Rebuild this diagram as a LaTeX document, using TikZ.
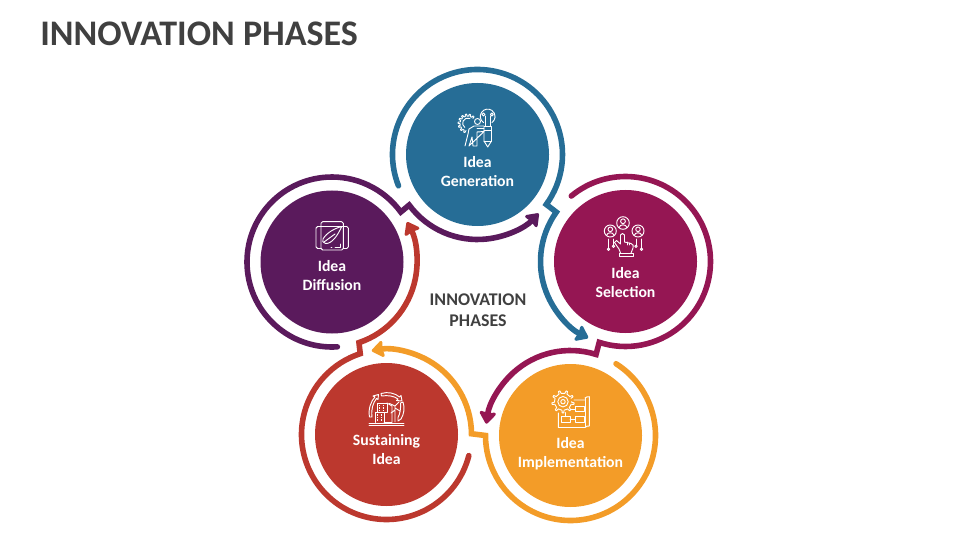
\documentclass[tikz,border=0pt]{standalone}
\usepackage{fontspec}
\setmainfont{Carlito}
\usetikzlibrary{arrows.meta,calc}
\definecolor{cgen}{HTML}{266D96}
\definecolor{csel}{HTML}{951653}
\definecolor{cimp}{HTML}{F39C28}
\definecolor{csus}{HTML}{BC382E}
\definecolor{cdif}{HTML}{5A1A5C}
\definecolor{ctxt}{HTML}{404040}
\tikzset{
  phase/.style={circle,fill=#1,minimum size=107.25pt,inner sep=0pt,draw=none},
  lbl/.style={text=white,font=\fontsize{11.8pt}{14.2pt}\selectfont\bfseries,align=center,inner sep=0pt},
  ringline/.style={draw=#1,line width=4.2pt,line join=miter,miter limit=10,line cap=round},
  headline/.style={-{Stealth[length=10pt,width=14.5pt,inset=1pt,round]}},
  ico/.style={draw=white,line width=.7pt,fill=none,line join=round,line cap=round},
}
% #1 colour, #2 own node, #3 next node, #4 rotation
\newcommand{\ringpath}[4]{%
  \draw[ringline=#1,headline]
    (#2.center) ++({201.6+#4}:63.75pt)
    arc[start angle={201.6+#4},delta angle=-237.6,radius=63.75pt]
    -- ($(#3.center)+({144.5+#4}:63.75pt)$)
    arc[start angle={144.5+#4},delta angle=99.5,radius=63.75pt];
}
% gear: cx cy inner outer, teeth angles first, last, second
\newcommand{\icogear}[7]{%
  \draw[ico] ({#1+#3*cos(#5)},{#2+#3*sin(#5)})
  \foreach \a in {#5,#7,...,#6}{
    -- ({#1+#3*cos(\a+3)},{#2+#3*sin(\a+3)})
    -- ({#1+#4*cos(\a+6)},{#2+#4*sin(\a+6)})
    -- ({#1+#4*cos(\a+14)},{#2+#4*sin(\a+14)})
    -- ({#1+#3*cos(\a+17)},{#2+#3*sin(\a+17)})
  };
}
\newcommand{\icoperson}[3]{%
  \draw[ico] (#1,#2) circle[radius=#3];
  \draw[ico] (#1,{#2-.28*#3}) circle[radius={.38*#3}];
  \draw[ico] ({#1-.62*#3},{#2+.72*#3}) .. controls ({#1-.5*#3},{#2+.15*#3}) and ({#1+.5*#3},{#2+.15*#3}) .. ({#1+.62*#3},{#2+.72*#3});
}
\begin{document}
\begin{tikzpicture}[x=.75pt,y=.75pt]
\useasboundingbox (0,0) rectangle (960,540);
\node[anchor=west,inner sep=0pt,text=ctxt,font=\fontsize{27pt}{30pt}\selectfont\bfseries] (title) at (40,506) {INNOVATION PHASES};
\node[phase=cgen] (gen) at (477.5,385.5) {};
\node[phase=csel] (sel) at (625.5,278.5) {};
\node[phase=cimp] (imp) at (570.5,104.5) {};
\node[phase=csus] (sus) at (386.5,105.5) {};
\node[phase=cdif] (dif) at (332,278) {};
\ringpath{cgen}{gen}{sel}{0}
\ringpath{csel}{sel}{imp}{-72}
\ringpath{cimp}{imp}{sus}{-144}
\ringpath{csus}{sus}{dif}{-216}
\ringpath{cdif}{dif}{gen}{72}
\node[lbl] (lgen) at (477.5,368.5) {Idea\\Generation};
\node[lbl] (lsel) at (625.5,257.5) {Idea\\Selection};
\node[lbl] (limp) at (570.5,86.5) {Idea\\Implementation};
\node[lbl] (lsus) at (386.5,90.5) {Sustaining\\Idea};
\node[lbl] (ldif) at (332,264.5) {Idea\\Diffusion};
\node[text=ctxt,align=center,inner sep=0pt,font=\fontsize{13.4pt}{15.7pt}\selectfont\bfseries] (ctr) at (478,229.5) {INNOVATION\\PHASES};
% --- icon: generation
\begin{scope}[shift={(452,435)},y=-.75pt]
  \icogear{15.5}{18.5}{7.4}{9.4}{100}{300}{125}
  \draw[ico] (18,13.5) arc[start angle=-65,end angle=-235,radius=5.2];
  \draw[ico] (35.7,11.5) ++(125:7.4) arc[start angle=125,delta angle=290,radius=7.4];
  \draw[ico] (33,11) -- (33,21.5) (38.5,11) -- (38.5,21.5);
  \draw[ico] (31.5,9.5) circle[radius=1.5] (39.9,9.5) circle[radius=1.5];
  \draw[ico] (32,21.5) -- (39.5,21.5) -- (39.5,36) -- (35.7,42) -- (32,36) -- cycle;
  \draw[ico] (32,25) -- (39.5,25) (32,36) -- (39.5,36);
  \draw[ico] (25.5,16.5) circle[radius=3];
  \draw[ico] (13,41) -- (16,29) -- (17,24) -- (22,21) -- (32,21) (32,26.5) -- (25,27) -- (25,41) -- (21,41) -- (20,32) -- (17,41) -- cycle;
  \draw[ico] (25,23.8) -- (32,23.8);
\end{scope}
% --- icon: selection
\begin{scope}[shift={(598,328)},y=-.75pt]
  \icoperson{25}{11}{6.3}
  \icoperson{12.3}{19}{6}
  \icoperson{40}{19}{6}
  \draw[ico] (22.5,41) -- (21,37) -- (16.5,30.5) -- (18.5,28.5) -- (22.5,32) -- (22.5,23) .. controls (23,21) and (26,21) .. (26.5,23) -- (26.5,30) -- (33,31.5) .. controls (35.5,32) and (35.5,34) .. (35,36) -- (33,41);
  \draw[ico] (29,30) -- (29,33) (31.5,31) -- (31.5,33);
  \draw[ico] (21,41.5) rectangle (35,44);
  \draw[ico] (10.5,27) -- (10.5,36) (15.5,27) -- (15.5,33) (38,27) -- (38,33) (43.5,27) -- (43.5,36);
  \draw[ico] (10.5,37.3) circle[radius=1.2] (38,34.3) circle[radius=1.2] (43.5,37.3) circle[radius=1.2] (15.5,34.3) circle[radius=1.2];
\end{scope}
% --- icon: implementation
\begin{scope}[shift={(546,155)},y=-.75pt]
  \icogear{17}{16.7}{8.6}{11.2}{0}{320}{40}
  \draw[ico] (17,16.7) circle[radius=5.2] (17,16.7) circle[radius=2.2];
  \draw[ico] (28,15) -- (39,15) (39,13) .. controls (40,11.7) and (42,11.7) .. (43.3,11.7) -- (43.3,41) .. controls (42,41) and (40,41) .. (39,42.5) -- (12.3,42.5) -- (12.3,28);
  \draw[ico] (39,13) -- (39,42);
  \draw[ico] (29,21) rectangle (38.3,26.7);
  \draw[ico] (15.7,31.7) rectangle (24,37.3);
  \draw[ico] (29,31.7) rectangle (38.3,37.3);
  \draw[ico] (24,34.5) -- (29,34.5) (19.8,27.5) -- (19.8,31.7) (25,24) -- (29,24);
\end{scope}
% --- icon: sustaining
\begin{scope}[shift={(362,152)},y=-.75pt]
  \draw[ico] (7,35) -- (42,35) (7,37.8) -- (42,37.8);
  \draw[ico] (13,34.5) -- (13,24) -- (22,24) -- (22,34.5);
  \draw[ico] (15,15) rectangle (25,24);
  \draw[ico] (25,15) -- (30,18) -- (30,34.5) -- (22,34.5);
  \draw[ico,dotted,line width=.8pt,line cap=butt] (15,27) -- (20.5,27) (15,29.5) -- (20.5,29.5) (15,32) -- (20.5,32) (17,17.5) -- (23.5,17.5) (17,20) -- (23.5,20) (17,22.5) -- (23.5,22.5);
  \draw[ico] (33,34) -- (33,18) (33,18) -- (27.5,15.5) (33,18) -- (37,14) (33,20) -- (38,23) (33,22) -- (29,25);
  \draw[ico] (7.5,29) .. controls (6,21) and (9,13) .. (13,9) -- (11,8) -- (16.5,6.5) -- (16,11.5) -- (14.5,10.5) .. controls (11,15) and (9,21) .. (10,29) -- cycle;
  \draw[ico] (19,5.5) .. controls (26,3.5) and (33,5) .. (37.5,9) -- (39,7.5) -- (40,13) -- (34.5,12.5) -- (36,11) .. controls (32,8) and (26,7) .. (19.5,8) -- cycle;
  \draw[ico] (41,14) .. controls (43,20) and (42,26) .. (39,31) -- (36,33) -- (36,29.5) .. controls (38,26) and (39,20) .. (38.5,15) -- cycle;
\end{scope}
% --- icon: diffusion
\begin{scope}[shift={(308,326)},y=-.75pt]
  \draw[ico,rounded corners=1.2pt] (13,7.7) rectangle (35.3,36);
  \draw[ico,rounded corners=1.2pt] (13,12.5) -- (8,12.5) -- (8,34.5) -- (13,34.5);
  \draw[ico,rounded corners=1.2pt] (35.3,12.5) -- (40.3,12.5) -- (40.3,34.5) -- (35.3,34.5);
  \draw[ico] (13,12.5) -- (35.3,12.5);
  \draw[ico] (33.7,12.5) .. controls (28,14) and (19,18) .. (15,25) .. controls (14,27) and (15,29) .. (17.5,29.5) .. controls (24,30) and (30,21) .. (33.7,12.5) -- cycle;
  \draw[ico] (16,28) -- (27,20);
  \draw[ico] (27,33.5) -- (32.7,33.5) -- (32.7,30) (23,33.5) -- (24,33.5);
\end{scope}
\end{tikzpicture}
\end{document}
